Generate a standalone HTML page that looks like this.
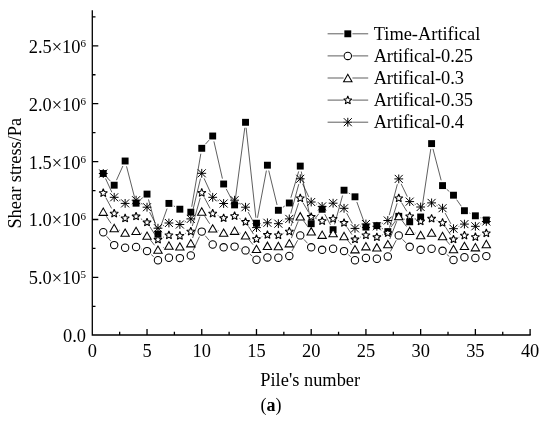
<!DOCTYPE html>
<html><head><meta charset="utf-8"><title>Shear stress</title>
<style>html,body{margin:0;padding:0;background:#fff}svg{display:block}</style></head>
<body>
<svg width="550" height="422" viewBox="0 0 550 422">
<rect width="550" height="422" fill="#fff"/>
<path d="M92.30 11.0V335.0H530.10" fill="none" stroke="#000" stroke-width="1.3" stroke-linecap="square"/>
<path d="M119.66 335.0v-3.2M147.03 335.0v-6M174.39 335.0v-3.2M201.75 335.0v-6M229.11 335.0v-3.2M256.48 335.0v-6M283.84 335.0v-3.2M311.20 335.0v-6M338.56 335.0v-3.2M365.93 335.0v-6M393.29 335.0v-3.2M420.65 335.0v-6M448.01 335.0v-3.2M475.38 335.0v-6M502.74 335.0v-3.2M530.10 335.0v-6M92.30 306.35h3.2M92.30 277.40h6M92.30 248.45h3.2M92.30 219.50h6M92.30 190.55h3.2M92.30 161.60h6M92.30 132.65h3.2M92.30 103.70h6M92.30 74.75h3.2M92.30 45.80h6M92.30 16.85h3.2" fill="none" stroke="#000" stroke-width="1.3"/>
<path d="M107.00 177.52L110.43 181.18M116.46 180.19L122.87 166.01M126.52 166.32L134.70 197.88M140.31 199.68L142.80 197.62M148.48 199.40L156.52 228.80M159.82 228.92L167.07 208.58M173.77 205.98L175.00 206.62M191.73 206.78L200.82 153.72M205.41 144.19L209.04 140.11M213.92 141.36L222.42 178.64M226.19 188.87L232.03 200.03M235.31 199.45L244.81 127.75M246.12 127.77L255.88 217.73M257.49 217.80L266.40 170.60M268.72 170.54L277.07 204.96M282.94 207.25L284.73 206.05M290.87 197.73L298.69 171.37M301.28 171.50L310.17 218.30M314.53 219.32L318.82 213.68M324.75 214.15L330.49 224.85M334.56 224.40L342.57 195.50M348.74 193.04L350.27 193.96M356.85 201.97L364.06 221.93M381.69 228.24L382.99 228.96M391.01 227.13L395.56 220.77M403.67 218.77L404.79 219.33M414.74 219.59L415.61 219.21M421.46 211.56L430.78 149.04M432.98 148.92L441.15 180.28M446.67 189.23L449.35 191.57M456.66 199.69L461.26 206.21M469.42 213.02L470.39 213.48M480.51 217.77L481.19 218.03" fill="none" stroke="#1a1a1a" stroke-width="0.7"/>
<rect x="99.80" y="170.05" width="6.90" height="6.90" fill="#000"/><rect x="110.74" y="181.75" width="6.90" height="6.90" fill="#000"/><rect x="121.68" y="157.55" width="6.90" height="6.90" fill="#000"/><rect x="132.63" y="199.75" width="6.90" height="6.90" fill="#000"/><rect x="143.58" y="190.65" width="6.90" height="6.90" fill="#000"/><rect x="154.52" y="230.65" width="6.90" height="6.90" fill="#000"/><rect x="165.47" y="199.95" width="6.90" height="6.90" fill="#000"/><rect x="176.41" y="205.75" width="6.90" height="6.90" fill="#000"/><rect x="187.36" y="208.75" width="6.90" height="6.90" fill="#000"/><rect x="198.30" y="144.85" width="6.90" height="6.90" fill="#000"/><rect x="209.25" y="132.55" width="6.90" height="6.90" fill="#000"/><rect x="220.19" y="180.55" width="6.90" height="6.90" fill="#000"/><rect x="231.13" y="201.45" width="6.90" height="6.90" fill="#000"/><rect x="242.08" y="118.85" width="6.90" height="6.90" fill="#000"/><rect x="253.03" y="219.75" width="6.90" height="6.90" fill="#000"/><rect x="263.97" y="161.75" width="6.90" height="6.90" fill="#000"/><rect x="274.92" y="206.85" width="6.90" height="6.90" fill="#000"/><rect x="285.86" y="199.55" width="6.90" height="6.90" fill="#000"/><rect x="296.81" y="162.65" width="6.90" height="6.90" fill="#000"/><rect x="307.75" y="220.25" width="6.90" height="6.90" fill="#000"/><rect x="318.69" y="205.85" width="6.90" height="6.90" fill="#000"/><rect x="329.64" y="226.25" width="6.90" height="6.90" fill="#000"/><rect x="340.59" y="186.75" width="6.90" height="6.90" fill="#000"/><rect x="351.53" y="193.35" width="6.90" height="6.90" fill="#000"/><rect x="362.48" y="223.65" width="6.90" height="6.90" fill="#000"/><rect x="373.42" y="222.15" width="6.90" height="6.90" fill="#000"/><rect x="384.37" y="228.15" width="6.90" height="6.90" fill="#000"/><rect x="395.31" y="212.85" width="6.90" height="6.90" fill="#000"/><rect x="406.26" y="218.35" width="6.90" height="6.90" fill="#000"/><rect x="417.20" y="213.55" width="6.90" height="6.90" fill="#000"/><rect x="428.15" y="140.15" width="6.90" height="6.90" fill="#000"/><rect x="439.09" y="182.15" width="6.90" height="6.90" fill="#000"/><rect x="450.04" y="191.75" width="6.90" height="6.90" fill="#000"/><rect x="460.98" y="207.25" width="6.90" height="6.90" fill="#000"/><rect x="471.93" y="212.35" width="6.90" height="6.90" fill="#000"/><rect x="482.87" y="216.55" width="6.90" height="6.90" fill="#000"/>
<path d="M106.80 236.39L110.63 240.91M141.23 248.93L141.87 249.17M151.25 254.62L153.74 256.68M193.10 250.50L199.46 236.60M205.31 235.79L209.14 240.31M239.78 248.40L240.33 248.60M249.72 253.96L252.28 256.14M291.90 251.05L297.66 240.25M303.98 239.45L307.48 243.25M348.26 254.62L350.75 256.68M390.36 251.52L396.22 240.28M402.57 239.37L405.90 242.83M446.75 254.34L449.27 256.46" fill="none" stroke="#1a1a1a" stroke-width="0.7"/>
<circle cx="103.25" cy="232.20" r="3.7" fill="#fff" stroke="#000" stroke-width="1.05"/><circle cx="114.19" cy="245.10" r="3.7" fill="#fff" stroke="#000" stroke-width="1.05"/><circle cx="125.13" cy="247.70" r="3.7" fill="#fff" stroke="#000" stroke-width="1.05"/><circle cx="136.08" cy="247.00" r="3.7" fill="#fff" stroke="#000" stroke-width="1.05"/><circle cx="147.03" cy="251.10" r="3.7" fill="#fff" stroke="#000" stroke-width="1.05"/><circle cx="157.97" cy="260.20" r="3.7" fill="#fff" stroke="#000" stroke-width="1.05"/><circle cx="168.92" cy="257.80" r="3.7" fill="#fff" stroke="#000" stroke-width="1.05"/><circle cx="179.86" cy="258.10" r="3.7" fill="#fff" stroke="#000" stroke-width="1.05"/><circle cx="190.81" cy="255.50" r="3.7" fill="#fff" stroke="#000" stroke-width="1.05"/><circle cx="201.75" cy="231.60" r="3.7" fill="#fff" stroke="#000" stroke-width="1.05"/><circle cx="212.69" cy="244.50" r="3.7" fill="#fff" stroke="#000" stroke-width="1.05"/><circle cx="223.64" cy="247.30" r="3.7" fill="#fff" stroke="#000" stroke-width="1.05"/><circle cx="234.58" cy="246.60" r="3.7" fill="#fff" stroke="#000" stroke-width="1.05"/><circle cx="245.53" cy="250.40" r="3.7" fill="#fff" stroke="#000" stroke-width="1.05"/><circle cx="256.48" cy="259.70" r="3.7" fill="#fff" stroke="#000" stroke-width="1.05"/><circle cx="267.42" cy="257.40" r="3.7" fill="#fff" stroke="#000" stroke-width="1.05"/><circle cx="278.37" cy="257.80" r="3.7" fill="#fff" stroke="#000" stroke-width="1.05"/><circle cx="289.31" cy="255.90" r="3.7" fill="#fff" stroke="#000" stroke-width="1.05"/><circle cx="300.25" cy="235.40" r="3.7" fill="#fff" stroke="#000" stroke-width="1.05"/><circle cx="311.20" cy="247.30" r="3.7" fill="#fff" stroke="#000" stroke-width="1.05"/><circle cx="322.14" cy="249.80" r="3.7" fill="#fff" stroke="#000" stroke-width="1.05"/><circle cx="333.09" cy="248.70" r="3.7" fill="#fff" stroke="#000" stroke-width="1.05"/><circle cx="344.04" cy="251.10" r="3.7" fill="#fff" stroke="#000" stroke-width="1.05"/><circle cx="354.98" cy="260.20" r="3.7" fill="#fff" stroke="#000" stroke-width="1.05"/><circle cx="365.93" cy="257.90" r="3.7" fill="#fff" stroke="#000" stroke-width="1.05"/><circle cx="376.87" cy="258.70" r="3.7" fill="#fff" stroke="#000" stroke-width="1.05"/><circle cx="387.81" cy="256.40" r="3.7" fill="#fff" stroke="#000" stroke-width="1.05"/><circle cx="398.76" cy="235.40" r="3.7" fill="#fff" stroke="#000" stroke-width="1.05"/><circle cx="409.71" cy="246.80" r="3.7" fill="#fff" stroke="#000" stroke-width="1.05"/><circle cx="420.65" cy="249.80" r="3.7" fill="#fff" stroke="#000" stroke-width="1.05"/><circle cx="431.60" cy="248.70" r="3.7" fill="#fff" stroke="#000" stroke-width="1.05"/><circle cx="442.54" cy="250.80" r="3.7" fill="#fff" stroke="#000" stroke-width="1.05"/><circle cx="453.49" cy="260.00" r="3.7" fill="#fff" stroke="#000" stroke-width="1.05"/><circle cx="464.43" cy="257.30" r="3.7" fill="#fff" stroke="#000" stroke-width="1.05"/><circle cx="475.38" cy="258.00" r="3.7" fill="#fff" stroke="#000" stroke-width="1.05"/><circle cx="486.32" cy="256.10" r="3.7" fill="#fff" stroke="#000" stroke-width="1.05"/>
<path d="M106.31 216.27L111.12 223.43M119.26 230.13L120.06 230.47M141.13 233.07L141.97 233.43M150.41 239.93L154.58 245.27M163.12 247.67L163.76 247.43M192.60 238.00L199.96 216.70M204.74 216.12L209.71 223.78M217.83 230.37L218.51 230.63M239.64 232.87L240.48 233.23M248.99 239.67L253.01 244.63M291.38 238.11L298.18 221.39M303.50 220.74L307.96 226.86M347.55 240.23L351.47 244.97M389.82 238.98L396.76 221.22M402.03 220.52L406.43 226.48M414.86 232.83L415.50 233.07M446.08 240.21L449.94 244.79" fill="none" stroke="#1a1a1a" stroke-width="0.7"/>
<path d="M99.05 215.35L107.45 215.35L103.25 208.05Z" fill="#fff" stroke="#000" stroke-width="1.05" stroke-linejoin="miter"/><path d="M109.99 231.65L118.39 231.65L114.19 224.35Z" fill="#fff" stroke="#000" stroke-width="1.05" stroke-linejoin="miter"/><path d="M120.93 236.25L129.33 236.25L125.13 228.95Z" fill="#fff" stroke="#000" stroke-width="1.05" stroke-linejoin="miter"/><path d="M131.88 234.55L140.28 234.55L136.08 227.25Z" fill="#fff" stroke="#000" stroke-width="1.05" stroke-linejoin="miter"/><path d="M142.83 239.25L151.22 239.25L147.03 231.95Z" fill="#fff" stroke="#000" stroke-width="1.05" stroke-linejoin="miter"/><path d="M153.77 253.25L162.17 253.25L157.97 245.95Z" fill="#fff" stroke="#000" stroke-width="1.05" stroke-linejoin="miter"/><path d="M164.72 249.15L173.12 249.15L168.92 241.85Z" fill="#fff" stroke="#000" stroke-width="1.05" stroke-linejoin="miter"/><path d="M175.66 250.05L184.06 250.05L179.86 242.75Z" fill="#fff" stroke="#000" stroke-width="1.05" stroke-linejoin="miter"/><path d="M186.61 246.85L195.00 246.85L190.81 239.55Z" fill="#fff" stroke="#000" stroke-width="1.05" stroke-linejoin="miter"/><path d="M197.55 215.15L205.95 215.15L201.75 207.85Z" fill="#fff" stroke="#000" stroke-width="1.05" stroke-linejoin="miter"/><path d="M208.50 232.05L216.89 232.05L212.69 224.75Z" fill="#fff" stroke="#000" stroke-width="1.05" stroke-linejoin="miter"/><path d="M219.44 236.25L227.84 236.25L223.64 228.95Z" fill="#fff" stroke="#000" stroke-width="1.05" stroke-linejoin="miter"/><path d="M230.38 234.35L238.78 234.35L234.58 227.05Z" fill="#fff" stroke="#000" stroke-width="1.05" stroke-linejoin="miter"/><path d="M241.33 239.05L249.73 239.05L245.53 231.75Z" fill="#fff" stroke="#000" stroke-width="1.05" stroke-linejoin="miter"/><path d="M252.28 252.55L260.68 252.55L256.48 245.25Z" fill="#fff" stroke="#000" stroke-width="1.05" stroke-linejoin="miter"/><path d="M263.22 249.45L271.62 249.45L267.42 242.15Z" fill="#fff" stroke="#000" stroke-width="1.05" stroke-linejoin="miter"/><path d="M274.17 249.65L282.56 249.65L278.37 242.35Z" fill="#fff" stroke="#000" stroke-width="1.05" stroke-linejoin="miter"/><path d="M285.11 246.85L293.51 246.85L289.31 239.55Z" fill="#fff" stroke="#000" stroke-width="1.05" stroke-linejoin="miter"/><path d="M296.06 219.95L304.45 219.95L300.25 212.65Z" fill="#fff" stroke="#000" stroke-width="1.05" stroke-linejoin="miter"/><path d="M307.00 234.95L315.40 234.95L311.20 227.65Z" fill="#fff" stroke="#000" stroke-width="1.05" stroke-linejoin="miter"/><path d="M317.94 238.35L326.34 238.35L322.14 231.05Z" fill="#fff" stroke="#000" stroke-width="1.05" stroke-linejoin="miter"/><path d="M328.89 236.75L337.29 236.75L333.09 229.45Z" fill="#fff" stroke="#000" stroke-width="1.05" stroke-linejoin="miter"/><path d="M339.84 239.65L348.24 239.65L344.04 232.35Z" fill="#fff" stroke="#000" stroke-width="1.05" stroke-linejoin="miter"/><path d="M350.78 252.85L359.18 252.85L354.98 245.55Z" fill="#fff" stroke="#000" stroke-width="1.05" stroke-linejoin="miter"/><path d="M361.73 249.85L370.12 249.85L365.93 242.55Z" fill="#fff" stroke="#000" stroke-width="1.05" stroke-linejoin="miter"/><path d="M372.67 250.95L381.07 250.95L376.87 243.65Z" fill="#fff" stroke="#000" stroke-width="1.05" stroke-linejoin="miter"/><path d="M383.62 247.75L392.01 247.75L387.81 240.45Z" fill="#fff" stroke="#000" stroke-width="1.05" stroke-linejoin="miter"/><path d="M394.56 219.75L402.96 219.75L398.76 212.45Z" fill="#fff" stroke="#000" stroke-width="1.05" stroke-linejoin="miter"/><path d="M405.51 234.55L413.91 234.55L409.71 227.25Z" fill="#fff" stroke="#000" stroke-width="1.05" stroke-linejoin="miter"/><path d="M416.45 238.65L424.85 238.65L420.65 231.35Z" fill="#fff" stroke="#000" stroke-width="1.05" stroke-linejoin="miter"/><path d="M427.40 236.25L435.80 236.25L431.60 228.95Z" fill="#fff" stroke="#000" stroke-width="1.05" stroke-linejoin="miter"/><path d="M438.34 239.65L446.74 239.65L442.54 232.35Z" fill="#fff" stroke="#000" stroke-width="1.05" stroke-linejoin="miter"/><path d="M449.29 252.65L457.69 252.65L453.49 245.35Z" fill="#fff" stroke="#000" stroke-width="1.05" stroke-linejoin="miter"/><path d="M460.23 249.55L468.63 249.55L464.43 242.25Z" fill="#fff" stroke="#000" stroke-width="1.05" stroke-linejoin="miter"/><path d="M471.18 250.85L479.57 250.85L475.38 243.55Z" fill="#fff" stroke="#000" stroke-width="1.05" stroke-linejoin="miter"/><path d="M482.12 247.65L490.52 247.65L486.32 240.35Z" fill="#fff" stroke="#000" stroke-width="1.05" stroke-linejoin="miter"/>
<path d="M105.84 197.65L111.60 208.45M119.23 215.51L120.10 215.89M140.90 218.84L142.20 219.56M149.98 226.84L155.02 234.76M163.07 237.35L163.81 237.05M184.98 233.59L185.69 233.31M192.30 226.01L200.25 197.89M204.32 197.46L210.12 208.44M217.77 215.43L218.57 215.77M239.43 218.41L240.69 219.09M248.49 226.33L253.51 234.17M261.63 236.87L262.27 236.63M283.58 233.24L284.10 233.06M291.03 226.07L298.54 203.23M303.03 202.75L308.42 211.95M316.35 218.63L316.99 218.87M338.24 220.53L338.88 220.77M347.08 227.28L351.94 234.62M360.11 237.23L360.79 236.97M382.02 234.97L382.66 234.73M389.47 227.55L397.11 203.25M401.61 202.71L406.86 211.39M414.69 218.42L415.66 218.88M436.73 220.37L437.41 220.63M445.57 227.19L450.46 234.61M458.67 237.35L459.25 237.15M480.57 235.00L481.12 234.80" fill="none" stroke="#1a1a1a" stroke-width="0.7"/>
<polygon points="103.25,188.75 104.33,191.55 107.33,191.72 105.00,193.62 105.77,196.53 103.25,194.90 100.72,196.53 101.49,193.62 99.16,191.72 102.16,191.55" fill="#fff" stroke="#000" stroke-width="1.05" stroke-linejoin="bevel"/><polygon points="114.19,209.25 115.28,212.05 118.28,212.22 115.95,214.12 116.72,217.03 114.19,215.40 111.66,217.03 112.43,214.12 110.10,212.22 113.10,212.05" fill="#fff" stroke="#000" stroke-width="1.05" stroke-linejoin="bevel"/><polygon points="125.13,214.05 126.22,216.85 129.22,217.02 126.89,218.92 127.66,221.83 125.13,220.20 122.61,221.83 123.38,218.92 121.05,217.02 124.05,216.85" fill="#fff" stroke="#000" stroke-width="1.05" stroke-linejoin="bevel"/><polygon points="136.08,212.15 137.17,214.95 140.17,215.12 137.84,217.02 138.61,219.93 136.08,218.30 133.55,219.93 134.32,217.02 131.99,215.12 134.99,214.95" fill="#fff" stroke="#000" stroke-width="1.05" stroke-linejoin="bevel"/><polygon points="147.03,218.15 148.11,220.95 151.11,221.12 148.78,223.02 149.55,225.93 147.03,224.30 144.50,225.93 145.27,223.02 142.94,221.12 145.94,220.95" fill="#fff" stroke="#000" stroke-width="1.05" stroke-linejoin="bevel"/><polygon points="157.97,235.35 159.06,238.15 162.06,238.32 159.73,240.22 160.50,243.13 157.97,241.50 155.44,243.13 156.21,240.22 153.88,238.32 156.88,238.15" fill="#fff" stroke="#000" stroke-width="1.05" stroke-linejoin="bevel"/><polygon points="168.92,230.95 170.00,233.75 173.00,233.92 170.67,235.82 171.44,238.73 168.92,237.10 166.39,238.73 167.16,235.82 164.83,233.92 167.83,233.75" fill="#fff" stroke="#000" stroke-width="1.05" stroke-linejoin="bevel"/><polygon points="179.86,231.55 180.95,234.35 183.95,234.52 181.62,236.42 182.39,239.33 179.86,237.70 177.33,239.33 178.10,236.42 175.77,234.52 178.77,234.35" fill="#fff" stroke="#000" stroke-width="1.05" stroke-linejoin="bevel"/><polygon points="190.81,227.25 191.89,230.05 194.89,230.22 192.56,232.12 193.33,235.03 190.81,233.40 188.28,235.03 189.05,232.12 186.72,230.22 189.72,230.05" fill="#fff" stroke="#000" stroke-width="1.05" stroke-linejoin="bevel"/><polygon points="201.75,188.55 202.84,191.35 205.84,191.52 203.51,193.42 204.28,196.33 201.75,194.70 199.22,196.33 199.99,193.42 197.66,191.52 200.66,191.35" fill="#fff" stroke="#000" stroke-width="1.05" stroke-linejoin="bevel"/><polygon points="212.69,209.25 213.78,212.05 216.78,212.22 214.45,214.12 215.22,217.03 212.69,215.40 210.17,217.03 210.94,214.12 208.61,212.22 211.61,212.05" fill="#fff" stroke="#000" stroke-width="1.05" stroke-linejoin="bevel"/><polygon points="223.64,213.85 224.73,216.65 227.73,216.82 225.40,218.72 226.17,221.63 223.64,220.00 221.11,221.63 221.88,218.72 219.55,216.82 222.55,216.65" fill="#fff" stroke="#000" stroke-width="1.05" stroke-linejoin="bevel"/><polygon points="234.58,211.75 235.67,214.55 238.67,214.72 236.34,216.62 237.11,219.53 234.58,217.90 232.06,219.53 232.83,216.62 230.50,214.72 233.50,214.55" fill="#fff" stroke="#000" stroke-width="1.05" stroke-linejoin="bevel"/><polygon points="245.53,217.65 246.62,220.45 249.62,220.62 247.29,222.52 248.06,225.43 245.53,223.80 243.00,225.43 243.77,222.52 241.44,220.62 244.44,220.45" fill="#fff" stroke="#000" stroke-width="1.05" stroke-linejoin="bevel"/><polygon points="256.48,234.75 257.56,237.55 260.56,237.72 258.23,239.62 259.00,242.53 256.48,240.90 253.95,242.53 254.72,239.62 252.39,237.72 255.39,237.55" fill="#fff" stroke="#000" stroke-width="1.05" stroke-linejoin="bevel"/><polygon points="267.42,230.65 268.51,233.45 271.51,233.62 269.18,235.52 269.95,238.43 267.42,236.80 264.89,238.43 265.66,235.52 263.33,233.62 266.33,233.45" fill="#fff" stroke="#000" stroke-width="1.05" stroke-linejoin="bevel"/><polygon points="278.37,230.95 279.45,233.75 282.45,233.92 280.12,235.82 280.89,238.73 278.37,237.10 275.84,238.73 276.61,235.82 274.28,233.92 277.28,233.75" fill="#fff" stroke="#000" stroke-width="1.05" stroke-linejoin="bevel"/><polygon points="289.31,227.25 290.40,230.05 293.40,230.22 291.07,232.12 291.84,235.03 289.31,233.40 286.78,235.03 287.55,232.12 285.22,230.22 288.22,230.05" fill="#fff" stroke="#000" stroke-width="1.05" stroke-linejoin="bevel"/><polygon points="300.25,193.95 301.34,196.75 304.34,196.92 302.01,198.82 302.78,201.73 300.25,200.10 297.73,201.73 298.50,198.82 296.17,196.92 299.17,196.75" fill="#fff" stroke="#000" stroke-width="1.05" stroke-linejoin="bevel"/><polygon points="311.20,212.65 312.29,215.45 315.29,215.62 312.96,217.52 313.73,220.43 311.20,218.80 308.67,220.43 309.44,217.52 307.11,215.62 310.11,215.45" fill="#fff" stroke="#000" stroke-width="1.05" stroke-linejoin="bevel"/><polygon points="322.14,216.75 323.23,219.55 326.23,219.72 323.90,221.62 324.67,224.53 322.14,222.90 319.62,224.53 320.39,221.62 318.06,219.72 321.06,219.55" fill="#fff" stroke="#000" stroke-width="1.05" stroke-linejoin="bevel"/><polygon points="333.09,214.55 334.18,217.35 337.18,217.52 334.85,219.42 335.62,222.33 333.09,220.70 330.56,222.33 331.33,219.42 329.00,217.52 332.00,217.35" fill="#fff" stroke="#000" stroke-width="1.05" stroke-linejoin="bevel"/><polygon points="344.04,218.65 345.12,221.45 348.12,221.62 345.79,223.52 346.56,226.43 344.04,224.80 341.51,226.43 342.28,223.52 339.95,221.62 342.95,221.45" fill="#fff" stroke="#000" stroke-width="1.05" stroke-linejoin="bevel"/><polygon points="354.98,235.15 356.07,237.95 359.07,238.12 356.74,240.02 357.51,242.93 354.98,241.30 352.45,242.93 353.22,240.02 350.89,238.12 353.89,237.95" fill="#fff" stroke="#000" stroke-width="1.05" stroke-linejoin="bevel"/><polygon points="365.93,230.95 367.01,233.75 370.01,233.92 367.68,235.82 368.45,238.73 365.93,237.10 363.40,238.73 364.17,235.82 361.84,233.92 364.84,233.75" fill="#fff" stroke="#000" stroke-width="1.05" stroke-linejoin="bevel"/><polygon points="376.87,232.85 377.96,235.65 380.96,235.82 378.63,237.72 379.40,240.63 376.87,239.00 374.34,240.63 375.11,237.72 372.78,235.82 375.78,235.65" fill="#fff" stroke="#000" stroke-width="1.05" stroke-linejoin="bevel"/><polygon points="387.81,228.75 388.90,231.55 391.90,231.72 389.57,233.62 390.34,236.53 387.81,234.90 385.29,236.53 386.06,233.62 383.73,231.72 386.73,231.55" fill="#fff" stroke="#000" stroke-width="1.05" stroke-linejoin="bevel"/><polygon points="398.76,193.95 399.85,196.75 402.85,196.92 400.52,198.82 401.29,201.73 398.76,200.10 396.23,201.73 397.00,198.82 394.67,196.92 397.67,196.75" fill="#fff" stroke="#000" stroke-width="1.05" stroke-linejoin="bevel"/><polygon points="409.71,212.05 410.79,214.85 413.79,215.02 411.46,216.92 412.23,219.83 409.71,218.20 407.18,219.83 407.95,216.92 405.62,215.02 408.62,214.85" fill="#fff" stroke="#000" stroke-width="1.05" stroke-linejoin="bevel"/><polygon points="420.65,217.15 421.74,219.95 424.74,220.12 422.41,222.02 423.18,224.93 420.65,223.30 418.12,224.93 418.89,222.02 416.56,220.12 419.56,219.95" fill="#fff" stroke="#000" stroke-width="1.05" stroke-linejoin="bevel"/><polygon points="431.60,214.35 432.68,217.15 435.68,217.32 433.35,219.22 434.12,222.13 431.60,220.50 429.07,222.13 429.84,219.22 427.51,217.32 430.51,217.15" fill="#fff" stroke="#000" stroke-width="1.05" stroke-linejoin="bevel"/><polygon points="442.54,218.55 443.63,221.35 446.63,221.52 444.30,223.42 445.07,226.33 442.54,224.70 440.01,226.33 440.78,223.42 438.45,221.52 441.45,221.35" fill="#fff" stroke="#000" stroke-width="1.05" stroke-linejoin="bevel"/><polygon points="453.49,235.15 454.57,237.95 457.57,238.12 455.24,240.02 456.01,242.93 453.49,241.30 450.96,242.93 451.73,240.02 449.40,238.12 452.40,237.95" fill="#fff" stroke="#000" stroke-width="1.05" stroke-linejoin="bevel"/><polygon points="464.43,231.25 465.52,234.05 468.52,234.22 466.19,236.12 466.96,239.03 464.43,237.40 461.90,239.03 462.67,236.12 460.34,234.22 463.34,234.05" fill="#fff" stroke="#000" stroke-width="1.05" stroke-linejoin="bevel"/><polygon points="475.38,232.75 476.46,235.55 479.46,235.72 477.13,237.62 477.90,240.53 475.38,238.90 472.85,240.53 473.62,237.62 471.29,235.72 474.29,235.55" fill="#fff" stroke="#000" stroke-width="1.05" stroke-linejoin="bevel"/><polygon points="486.32,228.95 487.41,231.75 490.41,231.92 488.08,233.82 488.85,236.73 486.32,235.10 483.79,236.73 484.56,233.82 482.23,231.92 485.23,231.75" fill="#fff" stroke="#000" stroke-width="1.05" stroke-linejoin="bevel"/>
<path d="M105.54 178.50L111.89 192.30M118.99 199.98L120.33 200.72M140.71 203.16L142.39 204.24M149.57 212.08L155.43 223.32M162.94 225.84L163.95 225.36M184.76 221.99L185.91 221.41M192.09 213.55L200.47 178.65M204.03 178.30L210.41 192.30M217.48 200.01L218.85 200.79M239.22 203.16L240.90 204.24M248.13 212.05L253.87 222.75M261.51 225.39L262.38 225.01M283.40 221.49L284.27 221.11M290.76 213.59L298.81 184.11M302.60 183.77L308.85 197.03M316.30 204.05L317.04 204.35M338.08 205.52L339.05 205.98M346.67 213.13L352.35 223.57M360.08 226.35L360.82 226.05M381.73 223.72L382.96 223.08M389.21 215.18L397.36 184.22M401.15 183.85L407.32 196.65M414.64 204.03L415.72 204.57M425.80 205.07L426.44 204.83M436.55 205.30L437.59 205.80M445.13 213.05L450.89 223.85M458.56 226.57L459.36 226.23M480.41 224.09L481.28 223.71" fill="none" stroke="#1a1a1a" stroke-width="0.7"/>
<path d="M98.84 173.50H107.65M103.25 169.10V177.90M99.25 169.50L107.25 177.50M99.25 177.50L107.25 169.50" fill="none" stroke="#000" stroke-width="1.0"/><path d="M109.79 197.30H118.59M114.19 192.90V201.70M110.19 193.30L118.19 201.30M110.19 201.30L118.19 193.30" fill="none" stroke="#000" stroke-width="1.0"/><path d="M120.73 203.40H129.53M125.13 199.00V207.80M121.13 199.40L129.13 207.40M121.13 207.40L129.13 199.40" fill="none" stroke="#000" stroke-width="1.0"/><path d="M131.68 200.20H140.48M136.08 195.80V204.60M132.08 196.20L140.08 204.20M132.08 204.20L140.08 196.20" fill="none" stroke="#000" stroke-width="1.0"/><path d="M142.62 207.20H151.43M147.03 202.80V211.60M143.03 203.20L151.03 211.20M143.03 211.20L151.03 203.20" fill="none" stroke="#000" stroke-width="1.0"/><path d="M153.57 228.20H162.37M157.97 223.80V232.60M153.97 224.20L161.97 232.20M153.97 232.20L161.97 224.20" fill="none" stroke="#000" stroke-width="1.0"/><path d="M164.52 223.00H173.32M168.92 218.60V227.40M164.92 219.00L172.92 227.00M164.92 227.00L172.92 219.00" fill="none" stroke="#000" stroke-width="1.0"/><path d="M175.46 224.50H184.26M179.86 220.10V228.90M175.86 220.50L183.86 228.50M175.86 228.50L183.86 220.50" fill="none" stroke="#000" stroke-width="1.0"/><path d="M186.41 218.90H195.21M190.81 214.50V223.30M186.81 214.90L194.81 222.90M186.81 222.90L194.81 214.90" fill="none" stroke="#000" stroke-width="1.0"/><path d="M197.35 173.30H206.15M201.75 168.90V177.70M197.75 169.30L205.75 177.30M197.75 177.30L205.75 169.30" fill="none" stroke="#000" stroke-width="1.0"/><path d="M208.29 197.30H217.09M212.69 192.90V201.70M208.69 193.30L216.69 201.30M208.69 201.30L216.69 193.30" fill="none" stroke="#000" stroke-width="1.0"/><path d="M219.24 203.50H228.04M223.64 199.10V207.90M219.64 199.50L227.64 207.50M219.64 207.50L227.64 199.50" fill="none" stroke="#000" stroke-width="1.0"/><path d="M230.18 200.20H238.98M234.58 195.80V204.60M230.58 196.20L238.58 204.20M230.58 204.20L238.58 196.20" fill="none" stroke="#000" stroke-width="1.0"/><path d="M241.13 207.20H249.93M245.53 202.80V211.60M241.53 203.20L249.53 211.20M241.53 211.20L249.53 203.20" fill="none" stroke="#000" stroke-width="1.0"/><path d="M252.08 227.60H260.88M256.48 223.20V232.00M252.48 223.60L260.48 231.60M252.48 231.60L260.48 223.60" fill="none" stroke="#000" stroke-width="1.0"/><path d="M263.02 222.80H271.82M267.42 218.40V227.20M263.42 218.80L271.42 226.80M263.42 226.80L271.42 218.80" fill="none" stroke="#000" stroke-width="1.0"/><path d="M273.97 223.70H282.76M278.37 219.30V228.10M274.37 219.70L282.37 227.70M274.37 227.70L282.37 219.70" fill="none" stroke="#000" stroke-width="1.0"/><path d="M284.91 218.90H293.71M289.31 214.50V223.30M285.31 214.90L293.31 222.90M285.31 222.90L293.31 214.90" fill="none" stroke="#000" stroke-width="1.0"/><path d="M295.86 178.80H304.65M300.25 174.40V183.20M296.25 174.80L304.25 182.80M296.25 182.80L304.25 174.80" fill="none" stroke="#000" stroke-width="1.0"/><path d="M306.80 202.00H315.60M311.20 197.60V206.40M307.20 198.00L315.20 206.00M307.20 206.00L315.20 198.00" fill="none" stroke="#000" stroke-width="1.0"/><path d="M317.75 206.40H326.54M322.14 202.00V210.80M318.14 202.40L326.14 210.40M318.14 210.40L326.14 202.40" fill="none" stroke="#000" stroke-width="1.0"/><path d="M328.69 203.20H337.49M333.09 198.80V207.60M329.09 199.20L337.09 207.20M329.09 207.20L337.09 199.20" fill="none" stroke="#000" stroke-width="1.0"/><path d="M339.64 208.30H348.44M344.04 203.90V212.70M340.04 204.30L348.04 212.30M340.04 212.30L348.04 204.30" fill="none" stroke="#000" stroke-width="1.0"/><path d="M350.58 228.40H359.38M354.98 224.00V232.80M350.98 224.40L358.98 232.40M350.98 232.40L358.98 224.40" fill="none" stroke="#000" stroke-width="1.0"/><path d="M361.53 224.00H370.32M365.93 219.60V228.40M361.93 220.00L369.93 228.00M361.93 228.00L369.93 220.00" fill="none" stroke="#000" stroke-width="1.0"/><path d="M372.47 226.30H381.27M376.87 221.90V230.70M372.87 222.30L380.87 230.30M372.87 230.30L380.87 222.30" fill="none" stroke="#000" stroke-width="1.0"/><path d="M383.42 220.50H392.21M387.81 216.10V224.90M383.81 216.50L391.81 224.50M383.81 224.50L391.81 216.50" fill="none" stroke="#000" stroke-width="1.0"/><path d="M394.36 178.90H403.16M398.76 174.50V183.30M394.76 174.90L402.76 182.90M394.76 182.90L402.76 174.90" fill="none" stroke="#000" stroke-width="1.0"/><path d="M405.31 201.60H414.11M409.71 197.20V206.00M405.71 197.60L413.71 205.60M405.71 205.60L413.71 197.60" fill="none" stroke="#000" stroke-width="1.0"/><path d="M416.25 207.00H425.05M420.65 202.60V211.40M416.65 203.00L424.65 211.00M416.65 211.00L424.65 203.00" fill="none" stroke="#000" stroke-width="1.0"/><path d="M427.20 202.90H436.00M431.60 198.50V207.30M427.60 198.90L435.60 206.90M427.60 206.90L435.60 198.90" fill="none" stroke="#000" stroke-width="1.0"/><path d="M438.14 208.20H446.94M442.54 203.80V212.60M438.54 204.20L446.54 212.20M438.54 212.20L446.54 204.20" fill="none" stroke="#000" stroke-width="1.0"/><path d="M449.09 228.70H457.88M453.49 224.30V233.10M449.49 224.70L457.49 232.70M449.49 232.70L457.49 224.70" fill="none" stroke="#000" stroke-width="1.0"/><path d="M460.03 224.10H468.83M464.43 219.70V228.50M460.43 220.10L468.43 228.10M460.43 228.10L468.43 220.10" fill="none" stroke="#000" stroke-width="1.0"/><path d="M470.98 226.30H479.77M475.38 221.90V230.70M471.38 222.30L479.38 230.30M471.38 230.30L479.38 222.30" fill="none" stroke="#000" stroke-width="1.0"/><path d="M481.92 221.50H490.72M486.32 217.10V225.90M482.32 217.50L490.32 225.50M482.32 225.50L490.32 217.50" fill="none" stroke="#000" stroke-width="1.0"/>
<g font-family="'Liberation Serif', 'Times New Roman', serif" font-size="18.4" fill="#000">
<text x="92.30" y="356.5" text-anchor="middle">0</text>
<text x="147.03" y="356.5" text-anchor="middle">5</text>
<text x="201.75" y="356.5" text-anchor="middle">10</text>
<text x="256.48" y="356.5" text-anchor="middle">15</text>
<text x="311.20" y="356.5" text-anchor="middle">20</text>
<text x="365.93" y="356.5" text-anchor="middle">25</text>
<text x="420.65" y="356.5" text-anchor="middle">30</text>
<text x="475.38" y="356.5" text-anchor="middle">35</text>
<text x="530.10" y="356.5" text-anchor="middle">40</text>
<text x="86" y="342.20" text-anchor="end">0.0</text>
<text x="86" y="284.30" text-anchor="end">5.0×10<tspan font-size="11" dy="-6">5</tspan></text>
<text x="86" y="226.40" text-anchor="end">1.0×10<tspan font-size="11" dy="-6">6</tspan></text>
<text x="86" y="168.50" text-anchor="end">1.5×10<tspan font-size="11" dy="-6">6</tspan></text>
<text x="86" y="110.60" text-anchor="end">2.0×10<tspan font-size="11" dy="-6">6</tspan></text>
<text x="86" y="52.70" text-anchor="end">2.5×10<tspan font-size="11" dy="-6">6</tspan></text>
<text x="310.2" y="386" text-anchor="middle">Pile's number</text>
<text transform="translate(20.5 173.2) rotate(-90)" text-anchor="middle">Shear stress/Pa</text>
<path d="M327.6 33.80H343.6M352.4 33.80H368.2" stroke="#1a1a1a" stroke-width="0.7"/>
<rect x="344.35" y="30.35" width="6.90" height="6.90" fill="#000"/>
<text x="373.7" y="39.60">Time-Artifical</text>
<path d="M327.6 55.90H343.6M352.4 55.90H368.2" stroke="#1a1a1a" stroke-width="0.7"/>
<circle cx="347.80" cy="55.90" r="3.7" fill="#fff" stroke="#000" stroke-width="1.05"/>
<text x="373.7" y="61.80" letter-spacing="-0.1">Artifical-0.25</text>
<path d="M327.6 78.00H343.6M352.4 78.00H368.2" stroke="#1a1a1a" stroke-width="0.7"/>
<path d="M343.60 81.65L352.00 81.65L347.80 74.35Z" fill="#fff" stroke="#000" stroke-width="1.05" stroke-linejoin="miter"/>
<text x="373.7" y="84.00" letter-spacing="-0.1">Artifical-0.3</text>
<path d="M327.6 100.10H343.6M352.4 100.10H368.2" stroke="#1a1a1a" stroke-width="0.7"/>
<polygon points="347.80,96.05 348.89,98.85 351.89,99.02 349.56,100.92 350.33,103.83 347.80,102.20 345.27,103.83 346.04,100.92 343.71,99.02 346.71,98.85" fill="#fff" stroke="#000" stroke-width="1.05" stroke-linejoin="bevel"/>
<text x="373.7" y="106.20" letter-spacing="-0.1">Artifical-0.35</text>
<path d="M327.6 122.20H343.6M352.4 122.20H368.2" stroke="#1a1a1a" stroke-width="0.7"/>
<path d="M343.40 122.20H352.20M347.80 117.80V126.60M343.80 118.20L351.80 126.20M343.80 126.20L351.80 118.20" fill="none" stroke="#000" stroke-width="1.0"/>
<text x="373.7" y="128.40" letter-spacing="-0.1">Artifical-0.4</text>
<text x="260.5" y="411" font-size="18">(<tspan font-weight="bold">a</tspan>)</text>
</g>
</svg>
</body></html>
